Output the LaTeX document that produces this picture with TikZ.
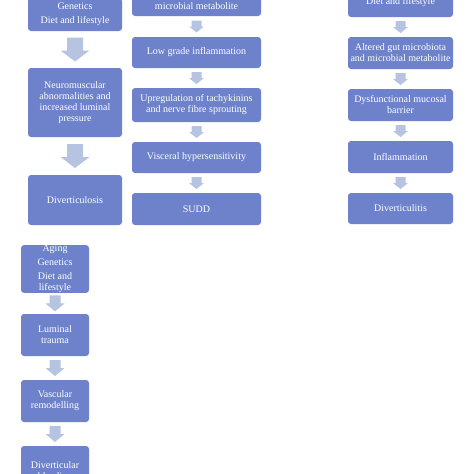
\documentclass[tikz,border=0pt]{standalone}
\usepackage{fontspec}
\setmainfont{Liberation Serif}
\usetikzlibrary{calc}
\definecolor{boxblue}{HTML}{6D82CB}
\definecolor{arrowblue}{HTML}{B7C4E1}
\tikzset{
  flowbox/.style={rectangle, rounded corners=3pt, fill=boxblue, text=white, align=center, inner sep=0pt, font=\fontsize{10}{11}\selectfont},
  arrowfill/.style={fill=arrowblue}
}
% block arrow between two boxes: from, to, length, shaft half width, head half width, head length
\newcommand\blockarrow[6]{%
  \fill[arrowfill] let \p1=($(#1.south)!0.5!(#2.north)$) in
    (\x1-#4pt,\y1+#3pt/2) -- (\x1+#4pt,\y1+#3pt/2) -- (\x1+#4pt,\y1-#3pt/2+#6pt)
    -- (\x1+#5pt,\y1-#3pt/2+#6pt) -- (\x1,\y1-#3pt/2) -- (\x1-#5pt,\y1-#3pt/2+#6pt)
    -- (\x1-#4pt,\y1-#3pt/2+#6pt) -- cycle;}
\begin{document}
\begin{tikzpicture}[x=1pt,y=-1pt]
	\clip (0,0) rectangle (474,474);
	% diverticulosis
	\node[flowbox, minimum width=94pt, minimum height=33pt] (dsa) at (75,14.5) {Genetics\\[3pt]Diet and lifestyle};
	\node[flowbox, minimum width=94pt, minimum height=69pt] (dsb) at (75,102.5) {Neuromuscular\\abnormalities and\\increased luminal\\pressure};
	\node[flowbox, minimum width=94pt, minimum height=50pt] (dsc) at (75,200) {Diverticulosis};
	% SUDD
	\node[flowbox, minimum width=129pt, minimum height=20pt] (sua) at (196.5,6) {microbial metabolite};
	\node[flowbox, minimum width=129pt, minimum height=31pt] (sub) at (196.5,52.5) {Low grade inflammation};
	\node[flowbox, minimum width=129pt, minimum height=34pt] (suc) at (196.5,105) {Upregulation of tachykinins\\and nerve fibre sprouting};
	\node[flowbox, minimum width=129pt, minimum height=31pt] (sud) at (196.5,157.5) {Visceral hypersensitivity};
	\node[flowbox, minimum width=129pt, minimum height=32pt] (sue) at (196.5,209) {SUDD};
	% diverticulitis
	\node[flowbox, minimum width=105pt, minimum height=29pt] (dta) at (400.5,2.5) {Diet and lifestyle};
	\node[flowbox, minimum width=105pt, minimum height=32pt] (dtb) at (400.5,53) {Altered gut microbiota\\and microbial metabolite};
	\node[flowbox, minimum width=105pt, minimum height=32pt] (dtc) at (400.5,105) {Dysfunctional mucosal\\barrier};
	\node[flowbox, minimum width=105pt, minimum height=32pt] (dtd) at (400.5,157) {Inflammation};
	\node[flowbox, minimum width=105pt, minimum height=31pt] (dte) at (400.5,208.5) {Diverticulitis};
	% diverticular bleeding
	\node[flowbox, minimum width=68pt, minimum height=42pt] (dba) at (55,269) {Aging\\[3pt]Genetics\\[3pt]Diet and\\lifestyle};
	\node[flowbox, minimum width=68pt, minimum height=42pt] (dbb) at (55,335) {Luminal\\trauma};
	\node[flowbox, minimum width=68pt, minimum height=42pt] (dbc) at (55,401) {Vascular\\remodelling};
	\node[flowbox, minimum width=68pt, minimum height=52pt] (dbd) at (55,472) {Diverticular\\bleeding};
	% arrows
	\foreach \a/\b in {dsa/dsb, dsb/dsc}
		\blockarrow{\a}{\b}{24}{8}{14.5}{11};
	\foreach \a/\b in {sua/sub, sub/suc, suc/sud, sud/sue, dta/dtb, dtb/dtc, dtc/dtd, dtd/dte}
		\blockarrow{\a}{\b}{12}{5}{7.5}{6};
	\foreach \a/\b in {dba/dbb, dbb/dbc, dbc/dbd}
		\blockarrow{\a}{\b}{16}{5.5}{9.5}{8};
\end{tikzpicture}
\end{document}
